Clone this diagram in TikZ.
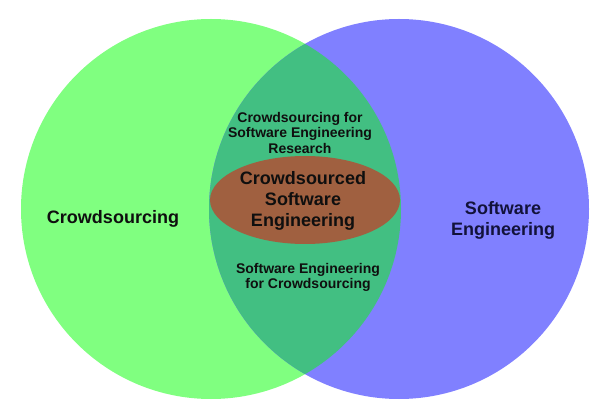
\documentclass[tikz,border=0pt]{standalone}
\usepackage{fontspec}
\setmainfont{Liberation Sans}
\definecolor{cgreen}{RGB}{128,255,128}
\definecolor{cblue}{RGB}{128,128,255}
\definecolor{cover}{RGB}{66,191,130}
\definecolor{cbrown}{RGB}{160,96,64}
\definecolor{cnavy}{RGB}{18,18,58}
\definecolor{ctext}{RGB}{15,15,15}
\begin{document}
\begin{tikzpicture}[x=1pt,y=-1pt,
  bigtxt/.style={font=\bfseries\fontsize{18}{21}\selectfont,align=center,inner sep=0pt,text=ctext},
  smalltxt/.style={font=\bfseries\fontsize{14}{15.5}\selectfont,align=center,inner sep=0pt,text=ctext}]
\useasboundingbox (0,0) rectangle (610,419);
\fill[cgreen] (211,209) circle[radius=190];
\fill[cblue] (399,209) circle[radius=190];
\begin{scope}
  \clip (211,209) circle[radius=190];
  \fill[cover] (399,209) circle[radius=190];
\end{scope}
\fill[cbrown] (305,200) ellipse[x radius=95,y radius=44];
\node[bigtxt] (crowd) at (113,219) {Crowdsourcing};
\node[bigtxt,text=cnavy] (se) at (503,220) {Software\\Engineering};
\node[smalltxt] (csr) at (300,132.5) {Crowdsourcing for\\Software Engineering\\Research};
\node[bigtxt] (cse) at (303,200.5) {Crowdsourced\\Software\\Engineering};
\node[smalltxt] (sec) at (308,277.5) {Software Engineering\\for Crowdsourcing};
\end{tikzpicture}
\end{document}
